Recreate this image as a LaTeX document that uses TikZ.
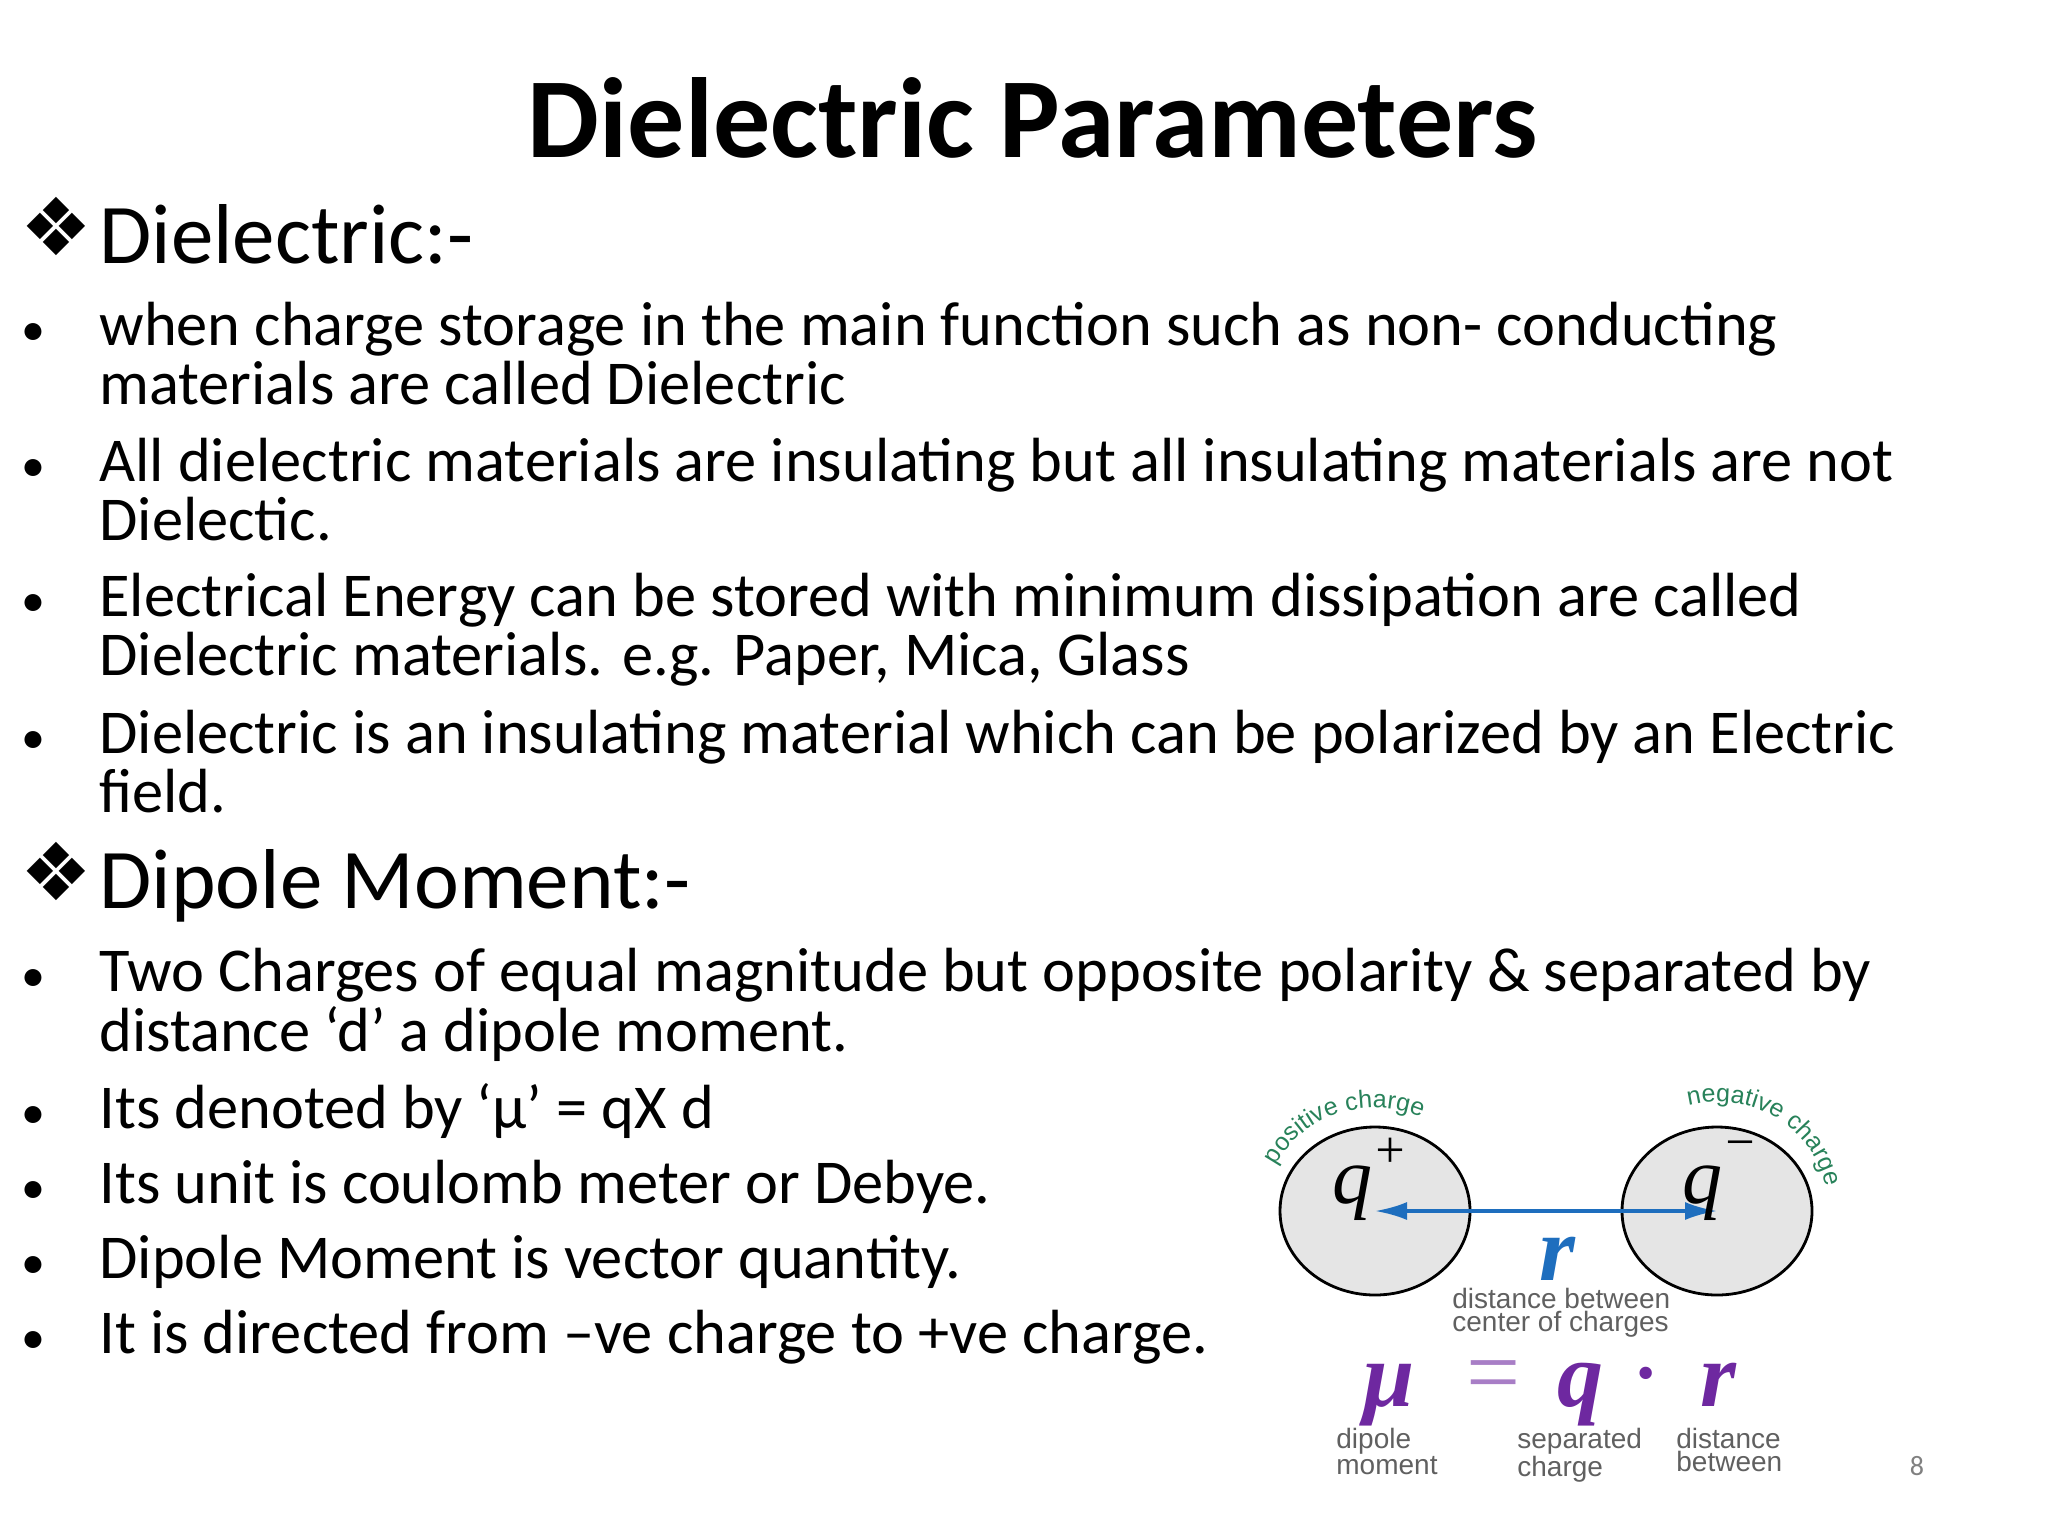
\documentclass[tikz,border=0pt]{standalone}
\usepackage{fontspec}
\setmainfont{Carlito}
\newfontfamily\djvfont{DejaVu Sans}
\newfontfamily\lsans{Liberation Sans}
\newfontfamily\lserif{Liberation Serif}
\usetikzlibrary{decorations.text,arrows.meta}
\definecolor{rblue}{RGB}{30,110,190}
\definecolor{rgreen}{RGB}{40,130,90}
\definecolor{rpurple}{RGB}{110,40,160}
\tikzset{
 txt/.style={anchor=base west,inner sep=0pt,font=\fontsize{31.2}{38}\selectfont},
 head/.style={anchor=base west,inner sep=0pt,font=\fontsize{42.5}{52}\selectfont},
 bul/.style={anchor=base,inner sep=0pt,font=\fontsize{24}{30}\selectfont},
 small/.style={inner sep=0pt,text=gray!75!black,font=\lsans\fontsize{14}{11.5}\selectfont},
 charge/.style={draw=black,line width=1.4pt,fill=gray!20},
 fml/.style={anchor=base,inner sep=0pt,text=rpurple,font=\lserif\bfseries\itshape\fontsize{46}{46}\selectfont},
 qlab/.style={anchor=base,inner sep=0pt,text=black,font=\lserif\itshape\fontsize{40}{40}\selectfont},
 diam/.style={anchor=base east,inner sep=1pt,font=\djvfont\fontsize{40}{40}\selectfont}
}
\begin{document}
\begin{tikzpicture}[x=0.5pt,y=-0.5pt]
\useasboundingbox (0,0) rectangle (2048,1536);
\node[anchor=base,inner sep=0pt,font=\bfseries\fontsize{57}{62}\selectfont] (title) at (1033,157) {Dielectric Parameters};
\node[head] (h1) at (99,263) {Dielectric:-};
\node[diam] (d1) at (95,255) {❖};
\foreach \y/\t [count=\i] in {345/{when charge storage in the main function such as non- conducting},404/{materials are called Dielectric},481/{All dielectric materials are insulating but all insulating materials are not},540/{Dielectic.},616/{Electrical Energy can be stored with minimum dissipation are called},675/{Dielectric materials. e.g. Paper, Mica, Glass},753/{Dielectric is an insulating material which can be polarized by an Electric},812/{field.},991/{Two Charges of equal magnitude but opposite polarity \& separated by},1051/{distance ‘d’ a dipole moment.},1128/{Its denoted by ‘µ’ = qX d},1203/{Its unit is coulomb meter or Debye.},1278/{Dipole Moment is vector quantity.},1353/{It is directed from –ve charge to +ve charge.}}
 \node[txt] (t\i) at (99,\y) {\t};
\foreach \y [count=\i] in {345,481,616,753,991,1128,1203,1278,1353}
 \node[bul] (b\i) at (33,\y) {•};
\node[head] (h2) at (99,908) {Dipole Moment:-};
\node[diam] (d2) at (95,900) {❖};
% diagram
\coordinate (cl) at (1375,1211);
\coordinate (cr) at (1717,1211);
\draw[charge] (cl) ellipse [x radius=95,y radius=84];
\draw[charge] (cr) ellipse [x radius=95,y radius=84];
\draw[rblue,line width=1.8pt,{Latex[length=16pt,width=9pt]}-{Latex[length=16pt,width=9pt]}] (cl) -- (cr);
\node[qlab] (qp) at (1370,1203) {q\raisebox{0.45em}{\fontsize{26}{26}\selectfont\lserif +}};
\node[qlab] (qm) at (1720,1203) {q\raisebox{0.55em}{\fontsize{26}{26}\selectfont\lserif −}};
\node[anchor=base,inner sep=0pt,text=rblue,font=\lserif\bfseries\itshape\fontsize{46}{46}\selectfont] (r) at (1557,1280) {r};
\node[small,align=left,anchor=north west] (dl) at (1452,1288) {distance between\\center of charges};
\path[decorate,decoration={text along path,text color=rgreen,text={|\lsans\fontsize{12.5}{12.5}\selectfont|positive charge},text align=center}] (cl) ++(-172:110) arc[start angle=-172,end angle=-48,x radius=110,y radius=102];
\path[decorate,decoration={text along path,text color=rgreen,text={|\lsans\fontsize{12.5}{12.5}\selectfont|negative charge},text align=center}] (cr) ++(-118:110) arc[start angle=-118,end angle=4,x radius=110,y radius=102];
\node[fml] (mu) at (1389,1406) {μ};
\node[fml,font=\lserif\fontsize{48}{48}\selectfont,text=rpurple!60] (eq) at (1494,1404) {=};
\node[fml] (q) at (1580,1406) {q};
\node[fml,font=\lserif\bfseries\fontsize{38}{38}\selectfont] (dot) at (1646,1398) {·};
\node[fml] (rr) at (1718,1406) {r};
\node[small,align=left,anchor=north west] (l1) at (1336,1428) {dipole\\moment};
\node[small,align=left,anchor=north west] (l2) at (1517,1428) {separated\\charge};
\node[small,align=left,anchor=north west] (l3) at (1676,1428) {distance\\between};
\node[anchor=base,inner sep=0pt,text=gray,font=\fontsize{14}{14}\selectfont] (pg) at (1917,1475) {8};
\end{tikzpicture}
\end{document}
